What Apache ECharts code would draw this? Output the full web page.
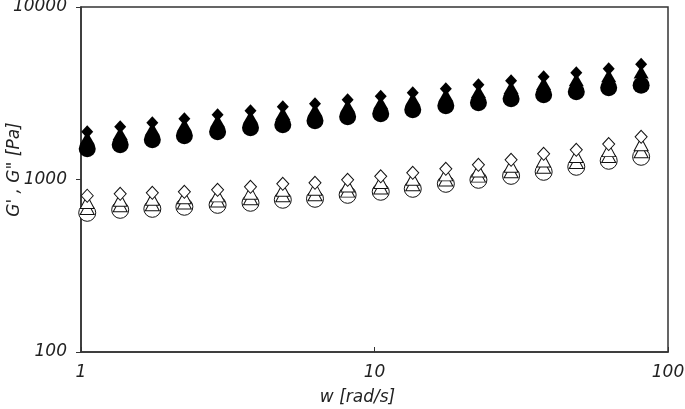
<!DOCTYPE html>
<html>
<head>
<meta charset="utf-8">
<script src="https://cdn.jsdelivr.net/npm/echarts@6/dist/echarts.min.js"></script>
<style>
  html, body { margin: 0; padding: 0; background: #fff; }
  #chart { width: 685px; height: 409px; }
</style>
</head>
<body>
<div id="chart"></div>
<script>
// angular frequency w [rad/s]
var omega = [1.05, 1.36, 1.75, 2.25, 2.92, 3.78, 4.87, 6.27, 8.1, 10.5,
  13.5, 17.5, 22.6, 29.2, 37.7, 48.7, 62.8, 81];

// G' (filled markers)
var gp1 = [1890, 2021, 2132, 2248, 2372, 2502, 2639, 2747, 2897, 3036,
  3181, 3356, 3540, 3734, 3939, 4155, 4383, 4654];
var gp2 = [1738, 1848, 1960, 2068, 2181, 2300, 2413, 2525, 2664, 2784,
  2925, 3085, 3236, 3414, 3602, 3784, 3992, 4194];
var gp3 = [1606, 1699, 1811, 1911, 2015, 2126, 2219, 2334, 2462, 2567,
  2703, 2852, 2976, 3140, 3311, 3460, 3650, 3804];
var gp4 = [1507, 1589, 1699, 1792, 1890, 1993, 2076, 2189, 2309, 2404,
  2536, 2674, 2784, 2937, 3097, 3224, 3401, 3516];

// G" (open markers)
var gpp1 = [805, 826, 837, 849, 872, 907, 944, 957, 996, 1044,
  1094, 1153, 1217, 1301, 1409, 1487, 1606, 1768];
var gpp2 = [740, 764, 774, 788, 809, 839, 873, 885, 924, 967,
  1011, 1071, 1129, 1202, 1289, 1367, 1480, 1602];
var gpp3 = [684, 709, 718, 735, 755, 778, 810, 821, 862, 899,
  938, 999, 1053, 1116, 1185, 1263, 1368, 1459];
var gpp4 = [641, 667, 676, 695, 713, 733, 763, 773, 815, 849,
  883, 944, 996, 1050, 1108, 1185, 1284, 1354];

var xTicks = [1, 10, 100];
var yTicks = [100, 1000, 10000];

function pairs(ys) {
  return omega.map(function (x, i) { return [x, ys[i]]; });
}

function makeSeries(ys, symbol, size, filled) {
  return {
    type: 'scatter',
    data: pairs(ys),
    symbol: symbol,
    symbolSize: size,
    itemStyle: filled
      ? { color: '#000', opacity: 1 }
      : { color: '#fff', borderColor: '#111', borderWidth: 1, opacity: 1 },
    emphasis: { disabled: true },
    silent: true
  };
}

var chart = echarts.init(document.getElementById('chart'));

var labelFont = {
  fontFamily: 'DejaVu Sans, sans-serif',
  fontStyle: 'italic',
  fontSize: 17,
  color: '#222'
};

chart.setOption({
  animation: false,
  grid: {
    left: 81, right: 17, top: 7, bottom: 57,
    containLabel: false, outerBoundsMode: 'none',
    show: true, borderColor: '#333', borderWidth: 1.5, backgroundColor: '#fff'
  },
  xAxis: {
    type: 'log', logBase: 10, min: 1, max: 100,
    name: 'w [rad/s]', nameLocation: 'middle', nameGap: 37,
    nameMoveOverlap: false,
    nameTextStyle: Object.assign({ padding: [0, 34, 0, 0] }, labelFont),
    axisLine: { lineStyle: { color: '#333', width: 1.5 } },
    axisTick: { inside: true, length: 5, lineStyle: { color: '#333' } },
    axisLabel: Object.assign({ margin: 12, formatter: function (v) {
      return xTicks.indexOf(v) >= 0 ? String(v) : '';
    } }, labelFont),
    splitLine: { show: false },
    minorTick: { show: false }
  },
  yAxis: {
    type: 'log', logBase: 10, min: 100, max: 10000,
    name: 'G\' , G" [Pa]', nameLocation: 'middle', nameGap: 58,
    nameMoveOverlap: false,
    nameTextStyle: Object.assign({ padding: [0, 0, 0, 20] }, labelFont),
    axisLine: { lineStyle: { color: '#333', width: 1.5 } },
    axisTick: { inside: false, length: 5, lineStyle: { color: '#333' } },
    axisLabel: Object.assign({ margin: 14, formatter: function (v) {
      return yTicks.indexOf(v) >= 0 ? String(v) : '';
    } }, labelFont),
    splitLine: { show: false },
    minorTick: { show: false }
  },
  series: [
    makeSeries(gp4, 'circle', 17, true),
    makeSeries(gp3, 'triangle', [15, 13], true),
    makeSeries(gp2, 'triangle', [15, 13], true),
    makeSeries(gp1, 'diamond', [12, 13], true),
    makeSeries(gpp4, 'circle', 17, false),
    makeSeries(gpp3, 'triangle', [14, 13], false),
    makeSeries(gpp2, 'triangle', [14, 13], false),
    makeSeries(gpp1, 'diamond', [12, 13], false)
  ]
});
</script>
</body>
</html>
